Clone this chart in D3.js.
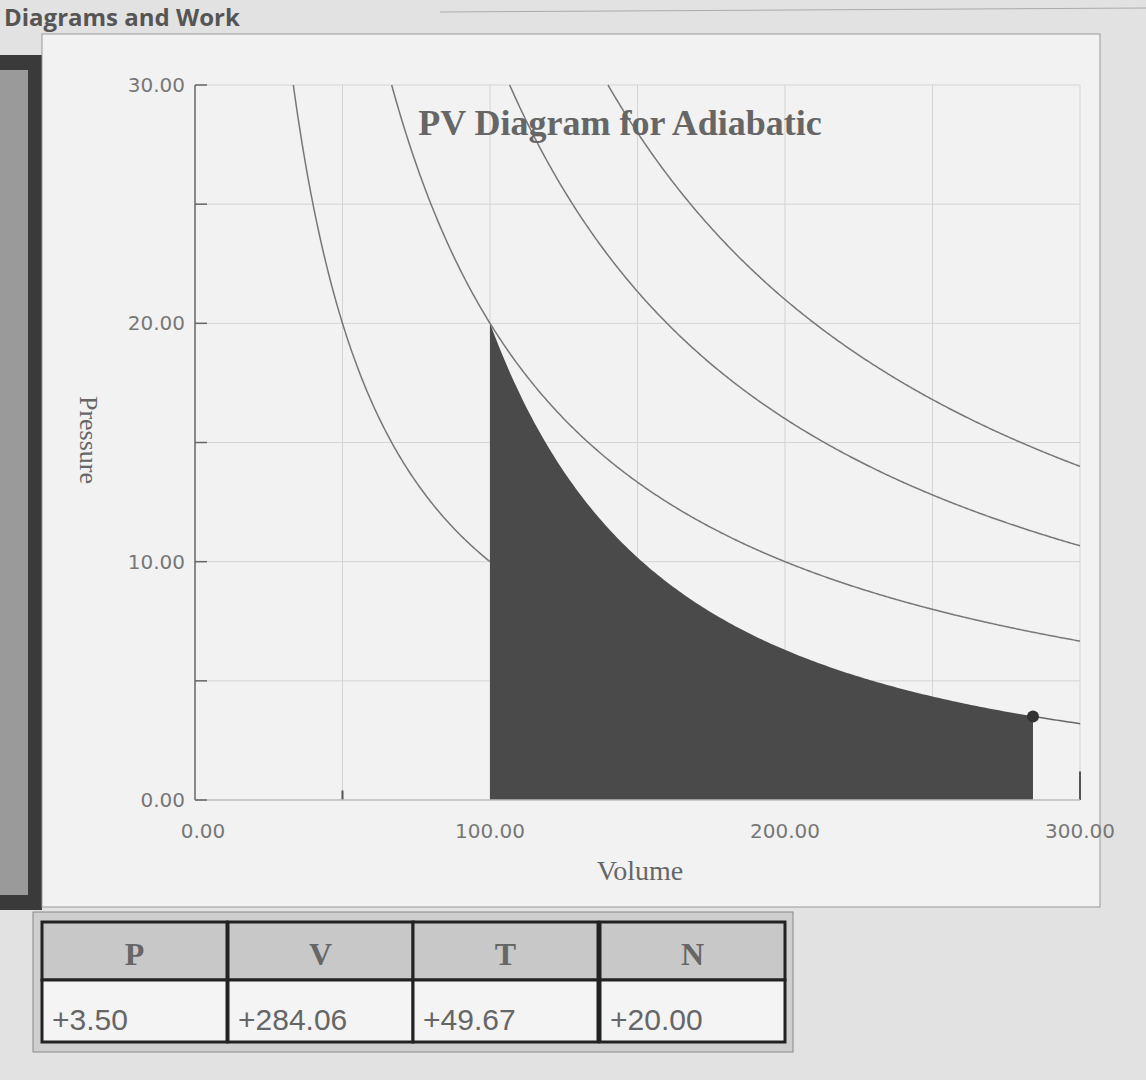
<!DOCTYPE html>
<html><head><meta charset="utf-8">
<script src="https://d3js.org/d3.v7.min.js"></script>
<style>body{margin:0;background:#e4e4e4;}svg{display:block}</style>
</head><body>
<svg id="c" width="1146" height="1080"></svg>
<script>
const isoConstants = [1000, 2000, 3200, 4200];
const adiabat = {V1: 100, P1: 20, V2: 284.06, P2: 3.5, gamma: 5/3};
const xTicks = [0, 100, 200, 300];
const yTicks = [0, 10, 20, 30];
const tableHeaders = ["P", "V", "T", "N"];
const tableValues = ["+3.50", "+284.06", "+49.67", "+20.00"];

const svg = d3.select("#c");
svg.append("rect").attr("width",1146).attr("height",1080).attr("fill","#e2e2e2");
svg.append("text").attr("x",4).attr("y",26).attr("font-family","Open Sans, sans-serif").attr("font-weight","bold")
  .attr("font-size",24).attr("fill","#555").text("Diagrams and Work");
svg.append("line").attr("x1",440).attr("x2",1146).attr("y1",12).attr("y2",8).attr("stroke","#aaa");
svg.append("rect").attr("x",0).attr("y",55).attr("width",42).attr("height",855).attr("fill","#3a3a3a");
svg.append("rect").attr("x",0).attr("y",70).attr("width",28).attr("height",825).attr("fill","#9a9a9a");
svg.append("rect").attr("x",42).attr("y",34).attr("width",1058).attr("height",873).attr("fill","#f2f2f2").attr("stroke","#999");

const x = d3.scaleLinear().domain([0,300]).range([195,1080]);
const y = d3.scaleLinear().domain([0,30]).range([800,85]);
const g = svg.append("g");
d3.range(50,301,50).forEach(v=>g.append("line").attr("x1",x(v)).attr("x2",x(v)).attr("y1",y(0)).attr("y2",y(30)).attr("stroke","#d4d4d4"));
d3.range(5,31,5).forEach(v=>g.append("line").attr("x1",x(0)).attr("x2",x(300)).attr("y1",y(v)).attr("y2",y(v)).attr("stroke","#d4d4d4"));

const pAd = v => adiabat.P1*Math.pow(adiabat.V1/v, adiabat.gamma);
const vs = d3.range(adiabat.V1, adiabat.V2, 1).concat([adiabat.V2]);
g.append("path").datum(vs).attr("fill","#4a4a4a")
  .attr("d", d3.area().x(v=>x(v)).y0(y(0)).y1(v=>y(pAd(v))));
g.append("path").datum(d3.range(adiabat.V2,301,1)).attr("fill","none").attr("stroke","#666").attr("stroke-width",1.5)
  .attr("d", d3.line().x(v=>x(v)).y(v=>y(pAd(v))));
g.append("circle").attr("cx",x(adiabat.V2)).attr("cy",y(adiabat.P2)).attr("r",6).attr("fill","#333");

isoConstants.forEach((k,i)=>{
  const v0 = k/30, v1 = i===0 ? 100 : 300;
  const pts = d3.range(v0, v1, 0.5).concat([v1]);
  g.append("path").datum(pts).attr("fill","none").attr("stroke","#777").attr("stroke-width",1.5)
   .attr("d", d3.line().x(v=>x(v)).y(v=>y(k/v)));
});
g.append("line").attr("x1",x(50)).attr("x2",x(50)).attr("y1",y(0)).attr("y2",y(0.4)).attr("stroke","#555").attr("stroke-width",2);
g.append("line").attr("x1",x(300)).attr("x2",x(300)).attr("y1",y(0)).attr("y2",y(1.2)).attr("stroke","#555").attr("stroke-width",2);

g.append("line").attr("x1",x(0)).attr("x2",x(0)).attr("y1",y(0)).attr("y2",y(30)).attr("stroke","#666").attr("stroke-width",1.5);
g.append("line").attr("x1",x(0)).attr("x2",x(300)).attr("y1",y(0)).attr("y2",y(0)).attr("stroke","#bbb").attr("stroke-width",1.5);
d3.range(0,31,5).forEach(v=>g.append("line").attr("x1",x(0)).attr("x2",x(0)+12).attr("y1",y(v)).attr("y2",y(v)).attr("stroke","#666").attr("stroke-width",1.5));
yTicks.forEach(v=>g.append("text").attr("x",x(0)-10).attr("y",y(v)+7).attr("text-anchor","end")
  .attr("font-family","DejaVu Sans, sans-serif").attr("font-size",20).attr("fill","#777").text(v.toFixed(2)));
xTicks.forEach(v=>g.append("text").attr("x",x(v)+(v===0?8:0)).attr("y",y(0)+38).attr("text-anchor","middle")
  .attr("font-family","DejaVu Sans, sans-serif").attr("font-size",20).attr("fill","#777").text(v.toFixed(2)));
g.append("text").attr("x",640).attr("y",880).attr("text-anchor","middle").attr("font-family","Liberation Serif, serif")
  .attr("font-size",28).attr("fill","#666").text("Volume");
g.append("text").attr("transform","translate(80,440) rotate(90)").attr("text-anchor","middle").attr("font-family","Liberation Serif, serif")
  .attr("font-size",26).attr("fill","#666").text("Pressure");
g.append("text").attr("x",620).attr("y",135).attr("text-anchor","middle").attr("font-family","Liberation Serif, serif")
  .attr("font-weight","bold").attr("font-size",36).attr("fill","#666").text("PV Diagram for Adiabatic");

svg.append("rect").attr("x",33).attr("y",912).attr("width",760).attr("height",140).attr("fill","#cfcfcf").attr("stroke","#888");
const cellX = [42,228,413,600], cellW = 185;
tableHeaders.forEach((h,i)=>{
  svg.append("rect").attr("x",cellX[i]).attr("y",922).attr("width",cellW).attr("height",58).attr("fill","#c8c8c8").attr("stroke","#222").attr("stroke-width",3);
  svg.append("text").attr("x",cellX[i]+cellW/2).attr("y",965).attr("text-anchor","middle").attr("font-family","Liberation Serif, serif")
    .attr("font-weight","bold").attr("font-size",32).attr("fill","#666").text(h);
  svg.append("rect").attr("x",cellX[i]).attr("y",980).attr("width",cellW).attr("height",62).attr("fill","#f4f4f4").attr("stroke","#222").attr("stroke-width",3);
  svg.append("text").attr("x",cellX[i]+10).attr("y",1030).attr("font-family","Liberation Sans, sans-serif")
    .attr("font-size",30).attr("fill","#666").text(tableValues[i]);
});
</script>
</body></html>
